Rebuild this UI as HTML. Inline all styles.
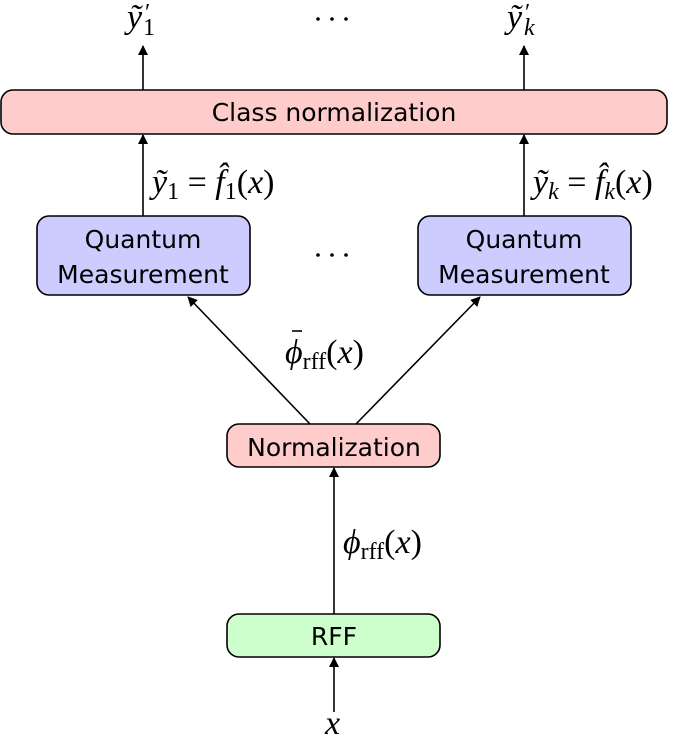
<!DOCTYPE html>
<html><head><meta charset="utf-8"><style>
body{margin:0;background:#fff;width:685px;height:739px;overflow:hidden}
svg{display:block}
.b{font-family:"DejaVu Sans","Liberation Sans",sans-serif;font-size:25px;text-anchor:middle}
.m{font-family:"Liberation Serif",serif;font-style:italic;font-size:34px}
.r{font-family:"Liberation Serif",serif;font-size:34px}
.s{font-family:"Liberation Serif",serif;font-size:24px}
.si{font-family:"Liberation Serif",serif;font-style:italic;font-size:24px}
</style></head><body>
<svg width="685" height="739" viewBox="0 0 685 739">
<defs><marker id="a" markerWidth="10" markerHeight="10" refX="9" refY="5" orient="auto" markerUnits="userSpaceOnUse"><path d="M0,0 L10,5 L0,10 Z" fill="#000"/></marker></defs>
<g stroke="#000" stroke-width="1.6" fill="none">
<line x1="143" y1="90" x2="143" y2="46" marker-end="url(#a)"/>
<line x1="524" y1="90" x2="524" y2="46" marker-end="url(#a)"/>
<line x1="143" y1="216" x2="143" y2="135" marker-end="url(#a)"/>
<line x1="524" y1="216" x2="524" y2="135" marker-end="url(#a)"/>
<line x1="310" y1="424" x2="188" y2="297" marker-end="url(#a)"/>
<line x1="356" y1="424" x2="480" y2="297" marker-end="url(#a)"/>
<line x1="334" y1="614" x2="334" y2="468" marker-end="url(#a)"/>
<line x1="334" y1="712" x2="334" y2="658" marker-end="url(#a)"/>
</g>
<g stroke="#000" stroke-width="1.6">
<rect x="1" y="90" width="666" height="44" rx="12" fill="#ffcccc"/>
<rect x="37" y="216" width="213" height="79" rx="12" fill="#ccccff"/>
<rect x="418" y="216" width="213" height="79" rx="12" fill="#ccccff"/>
<rect x="227" y="424" width="213" height="43" rx="12" fill="#ffcccc"/>
<rect x="227" y="614" width="213" height="43" rx="12" fill="#ccffcc"/>
</g>
<text class="b" x="334" y="121">Class normalization</text>
<text class="b" x="143" y="248">Quantum</text>
<text class="b" x="143" y="283">Measurement</text>
<text class="b" x="524" y="248">Quantum</text>
<text class="b" x="524" y="283">Measurement</text>
<text class="b" x="334" y="456">Normalization</text>
<text class="b" x="334" y="645">RFF</text>
<g fill="#000"><circle cx="318" cy="19" r="1.8"/><circle cx="332" cy="19" r="1.8"/><circle cx="346" cy="19" r="1.8"/>
<circle cx="318" cy="255" r="1.8"/><circle cx="332" cy="255" r="1.8"/><circle cx="346" cy="255" r="1.8"/></g>
<text class="m" x="127" y="28">ỹ</text><text class="s" x="145" y="20">′</text><text class="s" x="143" y="35">1</text>
<text class="m" x="507" y="28">ỹ</text><text class="s" x="525" y="20">′</text><text class="si" x="524" y="35">k</text>
<text x="152" y="193"><tspan class="m">ỹ</tspan><tspan class="s" dy="6">1</tspan><tspan class="r" dy="-6"> = </tspan><tspan class="m">f̂</tspan><tspan class="s" dy="6">1</tspan><tspan class="r" dy="-6">(</tspan><tspan class="m">x</tspan><tspan class="r">)</tspan></text>
<text x="533" y="193"><tspan class="m">ỹ</tspan><tspan class="si" dy="6">k</tspan><tspan class="r" dy="-6"> = </tspan><tspan class="m">f̂</tspan><tspan class="si" dy="6">k</tspan><tspan class="r" dy="-6">(</tspan><tspan class="m">x</tspan><tspan class="r">)</tspan></text>
<line x1="292" y1="331" x2="302" y2="331" stroke="#000" stroke-width="1.6"/>
<text x="285" y="363"><tspan class="m">ϕ</tspan><tspan class="s" dy="6">rff</tspan><tspan class="r" dy="-6">(</tspan><tspan class="m">x</tspan><tspan class="r">)</tspan></text>
<text x="343" y="553"><tspan class="m">ϕ</tspan><tspan class="s" dy="6">rff</tspan><tspan class="r" dy="-6">(</tspan><tspan class="m">x</tspan><tspan class="r">)</tspan></text>
<text class="m" x="325" y="734">x</text>
</svg>
</body></html>
